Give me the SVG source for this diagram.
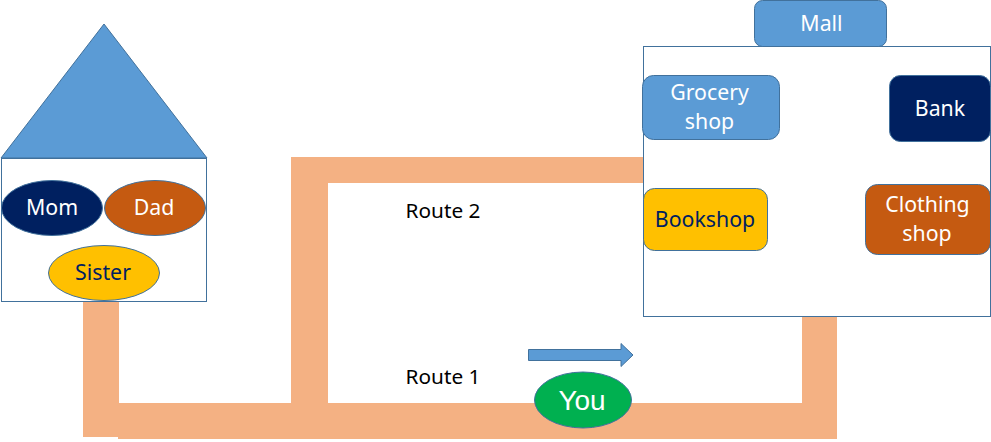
<svg xmlns="http://www.w3.org/2000/svg" width="991" height="442" viewBox="0 0 991 442">
<style>
text{font-family:"Noto Sans","Open Sans","Liberation Sans",sans-serif;font-size:21.300px;text-anchor:middle}
.w{fill:#fff}.d{fill:#002060}.k{fill:#000;font-size:20.800px}
.s{stroke:#41719c;stroke-width:1}
.road{fill:#f4b183}
</style>
<rect width="991" height="442" fill="#fff"/>
<g id="connectors">
<rect class="road" x="83" y="301" width="36" height="136"/>
<rect class="road" x="118" y="403" width="719" height="36"/>
<rect class="road" x="291" y="157" width="37" height="246"/>
<rect class="road" x="291" y="157" width="353" height="26"/>
<rect class="road" x="802" y="316" width="35" height="90"/>
</g>
<g id="house">
<path class="s" fill="#5b9bd5" d="M104 24L207 158H1Z"/>
<rect class="s" fill="#fff" x="1.5" y="158.5" width="205" height="143"/>
</g>
<g id="mom"><ellipse class="s" fill="#002060" cx="52" cy="208" rx="50.500" ry="27.500"/><text class="w" x="52" y="215">Mom</text></g>
<g id="dad"><ellipse class="s" fill="#c55a11" cx="155" cy="208" rx="50.500" ry="27.500"/><text class="w" x="154" y="215">Dad</text></g>
<g id="sister"><ellipse class="s" fill="#ffc000" cx="104" cy="273" rx="55.500" ry="27.500"/><text class="d" x="103" y="280">Sister</text></g>
<g id="mall-area"><rect class="s" fill="#fff" x="643.500" y="46.500" width="347" height="270"/></g>
<g id="mall"><rect class="s" fill="#5b9bd5" x="754.500" y="0.500" width="132" height="46" rx="8"/><text class="w" x="821.500" y="31">Mall</text></g>
<g id="grocery"><rect class="s" fill="#5b9bd5" x="642.500" y="75.500" width="137" height="64" rx="11"/><text class="w" x="709.500" y="100">Grocery</text><text class="w" x="709.500" y="129">shop</text></g>
<g id="bank"><rect class="s" fill="#002060" x="889.500" y="75.500" width="101" height="66" rx="11"/><text class="w" x="940" y="116">Bank</text></g>
<g id="bookshop"><rect class="s" fill="#ffc000" x="643.500" y="188.500" width="124" height="62" rx="11"/><text class="d" x="705" y="227">Bookshop</text></g>
<g id="clothing"><rect class="s" fill="#c55a11" x="865.500" y="184.500" width="125" height="70" rx="12"/><text class="w" x="927.500" y="212">Clothing</text><text class="w" x="927" y="241">shop</text></g>
<g id="route2"><text class="k" x="443" y="218">Route 2</text></g>
<g id="route1"><text class="k" x="443" y="384">Route 1</text></g>
<g id="direction"><path class="s" fill="#5b9bd5" d="M528.500 349.500H621V343.500L633 355L621 366.500V360.500H528.500Z"/></g>
<g id="you"><ellipse class="s" fill="#00b050" cx="583" cy="400" rx="48.500" ry="28"/><text class="w" x="582" y="410" style="font-family:'Liberation Sans',Arial,sans-serif;font-size:28px">You</text></g>
</svg>
